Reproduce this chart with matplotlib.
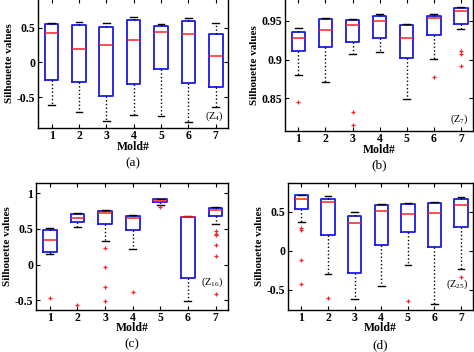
import matplotlib
matplotlib.use("Agg")
import matplotlib.pyplot as plt

plt.rcParams["font.family"] = ["Liberation Serif", "DejaVu Serif"]
plt.rcParams["mathtext.fontset"] = "custom"
plt.rcParams["mathtext.rm"] = "Liberation Serif"
plt.rcParams["mathtext.it"] = "Liberation Serif:italic"
plt.rcParams["mathtext.bf"] = "Liberation Serif:bold"

molds = [1, 2, 3, 4, 5, 6, 7]

# per panel: lower whisker, q1, median, q3, upper whisker, outliers
a_wlo = [-0.61, -0.71, -0.85, -0.76, -0.77, -0.86, -0.65]
a_q1 = [-0.26, -0.28, -0.49, -0.31, -0.09, -0.29, -0.35]
a_med = [0.42, 0.20, 0.25, 0.32, 0.445, 0.41, 0.10]
a_q3 = [0.56, 0.545, 0.51, 0.61, 0.535, 0.60, 0.41]
a_whi = [0.57, 0.59, 0.575, 0.655, 0.56, 0.645, 0.565]
a_out = [[], [], [], [], [], [], []]

b_wlo = [0.8805, 0.871, 0.907, 0.910, 0.849, 0.9005, 0.939]
b_q1 = [0.911, 0.9155, 0.923, 0.928, 0.9017, 0.932, 0.9457]
b_med = [0.928, 0.9375, 0.944, 0.950, 0.9276, 0.9534, 0.962]
b_q3 = [0.936, 0.952, 0.951, 0.956, 0.944, 0.9565, 0.966]
b_whi = [0.941, 0.953, 0.952, 0.959, 0.9457, 0.959, 0.967]
b_out = [[0.8457], [], [0.832, 0.816], [], [], [0.877], [0.911, 0.9065, 0.891]]

c_wlo = [0.146, 0.526, 0.329, 0.219, 0.837, -0.503, 0.562]
c_q1 = [0.178, 0.594, 0.567, 0.489, 0.878, -0.192, 0.686]
c_med = [0.343, 0.649, 0.718, 0.645, 0.896, 0.66, 0.764]
c_q3 = [0.489, 0.704, 0.754, 0.686, 0.914, 0.668, 0.796]
c_whi = [0.512, 0.718, 0.764, 0.695, 0.919, 0.68, 0.805]
c_out = [[-0.462], [-0.558], [0.229, -0.037, -0.306, -0.508], [-0.375], [0.80],
         [], [0.466, 0.434, 0.41, 0.27, 0.114, -0.41]]

d_wlo = [0.363, -0.30, -0.62, -0.46, -0.186, -0.688, -0.24]
d_q1 = [0.54, 0.198, -0.287, 0.0675, 0.24, 0.046, 0.304]
d_med = [0.662, 0.62, 0.35, 0.506, 0.468, 0.489, 0.586]
d_q3 = [0.713, 0.67, 0.45, 0.586, 0.603, 0.612, 0.667]
d_whi = [0.72, 0.70, 0.498, 0.60, 0.612, 0.624, 0.688]
d_out = [[0.295, 0.266, -0.114, -0.43], [-0.603], [], [], [-0.646], [], [-0.342]]

panels = [
    # data, rect, ylim, yticks, ytick labels, tag, tag y, caption, caption y (figure)
    ((a_wlo, a_q1, a_med, a_q3, a_whi, a_out), [0.080, 0.636, 0.401, 0.367],
     (-0.95, 0.92), [-0.5, 0, 0.5], ["-0.5", "0", "0.5"], r"(Z$_{4}$)", 0.04, "(a)", 0.535),
    ((b_wlo, b_q1, b_med, b_q3, b_whi, b_out), [0.601, 0.628, 0.397, 0.375],
     (0.808, 0.978), [0.85, 0.9, 0.95], ["0.85", "0.9", "0.95"], r"(Z$_{7}$)", 0.04, "(b)", 0.530),
    ((c_wlo, c_q1, c_med, c_q3, c_whi, c_out), [0.076, 0.120, 0.405, 0.360],
     (-0.63, 1.14), [-0.5, 0, 0.5, 1], ["-0.5", "0", "0.5", "1"], r"(Z$_{16}$)", 0.16, "(c)", 0.022),
    ((d_wlo, d_q1, d_med, d_q3, d_whi, d_out), [0.608, 0.120, 0.390, 0.360],
     (-0.76, 0.87), [-0.5, 0, 0.5], ["-0.5", "0", "0.5"], r"(Z$_{25}$)", 0.15, "(d)", 0.020),
]

fig = plt.figure(figsize=(4.74, 3.52), dpi=100)

for (wlo, q1, med, q3, whi, out), rect, ylim, yt, ytl, tag, tag_y, cap, cap_y in panels:
    ax = fig.add_axes(rect)
    stats = []
    for i in range(len(molds)):
        stats.append({"whislo": wlo[i], "q1": q1[i], "med": med[i], "q3": q3[i],
                      "whishi": whi[i], "fliers": out[i]})
    ax.bxp(stats, positions=molds, widths=0.5, showfliers=True,
           boxprops=dict(color="#1a1ae6", linewidth=1.3),
           medianprops=dict(color="#ff2020", linewidth=1.1),
           whiskerprops=dict(color="black", linestyle=":", linewidth=1.0),
           capprops=dict(color="black", linewidth=1.0),
           flierprops=dict(marker="+", markeredgecolor="#ff2020", markersize=3.5,
                           markeredgewidth=0.9, linestyle="none"))
    ax.set_xlim(0.5, 7.45)
    ax.set_ylim(*ylim)
    ax.set_xticks(molds)
    ax.set_xticklabels([str(m) for m in molds], fontweight="bold", fontsize=8.5)
    ax.set_yticks(yt)
    ax.set_yticklabels(ytl, fontweight="bold", fontsize=8.5)
    ax.tick_params(direction="in", top=True, right=True, length=3, width=0.8, pad=2)
    ax.tick_params(axis="x", pad=1.5)
    for s in ax.spines.values():
        s.set_linewidth(1.0)
    ax.set_xlabel("Mold#", fontweight="bold", fontsize=8.5, labelpad=-1)
    ax.set_ylabel("Silhouette values", fontweight="bold", fontsize=8, labelpad=2)
    ax.text(0.975, tag_y, tag, transform=ax.transAxes, ha="right", va="bottom",
            fontsize=7.5)
    fig.text(rect[0] + rect[2] / 2, cap_y, cap, ha="center", va="center", fontsize=9.5)

fig.savefig("out.png", dpi=100)
